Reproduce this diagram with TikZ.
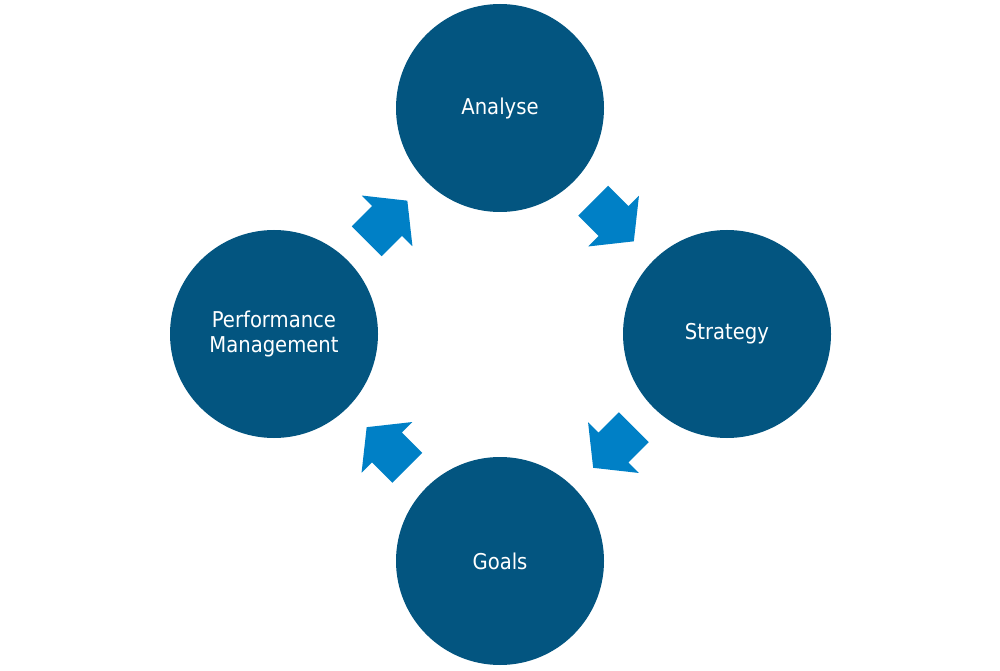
\documentclass[tikz,border=0pt]{standalone}
\usepackage{fontspec}
\setmainfont{DejaVu Sans Condensed}
\usetikzlibrary{calc}
\definecolor{circblue}{RGB}{3,85,128}
\definecolor{arrowblue}{RGB}{0,128,198}
\tikzset{
  stage/.style={circle, fill=circblue, minimum size=208pt, inner sep=0pt,
    text=white, font=\fontsize{21.8}{24.5}\selectfont, align=center},
  blockarrow/.pic={
    \fill[arrowblue] (-28.75,-21.1) -- (0.15,-21.1) -- (0.15,-35.85) -- (28.75,0)
      -- (0.15,35.85) -- (0.15,21.1) -- (-28.75,21.1) -- cycle;
  }
}
\begin{document}
\begin{tikzpicture}[x=1pt,y=1pt]
\useasboundingbox (0,0) rectangle (1000,670);
\node[stage] (an) at (500,562) {Analyse};
\node[stage] (st) at (727,336) {Strategy};
\node[stage] (go) at (500,109) {Goals};
\node[stage] (pm) at (274,336) {Performance\\Management};
\coordinate (m1) at ($(an)!0.5!(st)$);
\coordinate (m2) at ($(st)!0.5!(go)$);
\coordinate (m3) at ($(go)!0.5!(pm)$);
\coordinate (m4) at ($(pm)!0.5!(an)$);
\pic[rotate=-45] at (m1) {blockarrow};
\pic[rotate=-135] at (m2) {blockarrow};
\pic[rotate=135] at (m3) {blockarrow};
\pic[rotate=45] at (m4) {blockarrow};
\end{tikzpicture}
\end{document}
